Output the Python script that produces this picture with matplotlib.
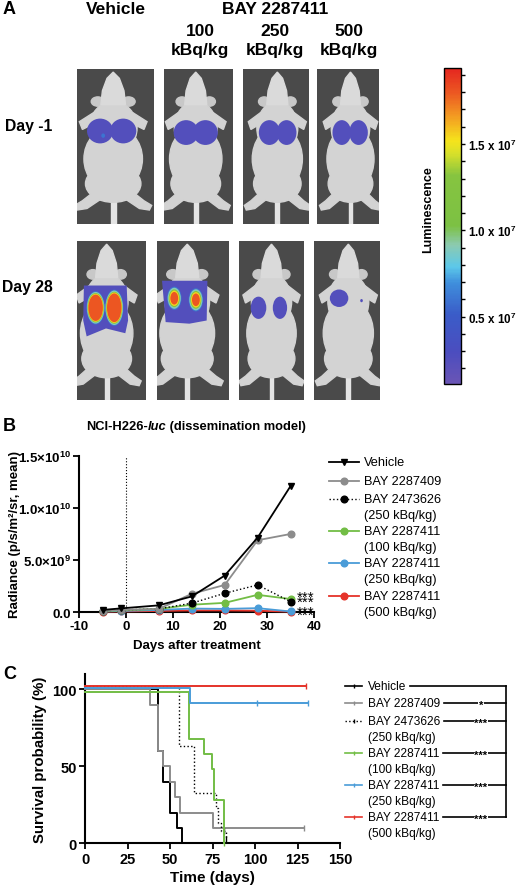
import numpy as np
import matplotlib
matplotlib.use("Agg")
import matplotlib.pyplot as plt
from matplotlib.colors import LinearSegmentedColormap, Normalize
from matplotlib.patches import Ellipse, Polygon, Rectangle
from matplotlib.cm import ScalarMappable
from matplotlib.ticker import FixedLocator

plt.rcParams['font.family'] = ['Liberation Sans', 'DejaVu Sans']
plt.rcParams['mathtext.fontset'] = 'custom'
plt.rcParams['mathtext.rm'] = 'Liberation Sans:bold'
plt.rcParams['mathtext.bf'] = 'Liberation Sans:bold'
plt.rcParams['mathtext.default'] = 'bf'
plt.rcParams['axes.unicode_minus'] = False

W, H = 520, 887

# ---- A: imaging, luminescence scale ----
lum_min, lum_max = 0.11e7, 1.94e7
lum_ticks = [0.5e7, 1.0e7, 1.5e7]
lum_tick_labels = ['0.5 x $10^{7}$', '1.0 x $10^{7}$', '1.5 x $10^{7}$']
lum_levels = [0.25e7, 0.6e7, 0.9e7, 1.3e7, 1.55e7, 1.8e7]
# lobes per mouse: (x, y, w, h, peak signal)
lobes_day_m1 = [
    [(0.30, 0.40, 0.34, 0.16, 0.3e7), (0.60, 0.40, 0.34, 0.16, 0.3e7), (0.34, 0.43, 0.07, 0.04, 0.65e7)],
    [(0.32, 0.41, 0.36, 0.16, 0.3e7), (0.60, 0.41, 0.36, 0.16, 0.3e7)],
    [(0.40, 0.41, 0.32, 0.16, 0.3e7), (0.66, 0.41, 0.30, 0.16, 0.3e7)],
    [(0.40, 0.41, 0.30, 0.16, 0.3e7), (0.67, 0.41, 0.30, 0.16, 0.3e7)],
]
lobes_day28 = [
    [(0.27, 0.42, 0.28, 0.22, 3.5e7), (0.54, 0.42, 0.28, 0.24, 3.5e7)],
    [(0.24, 0.36, 0.22, 0.16, 2.0e7), (0.54, 0.37, 0.22, 0.16, 2.0e7)],
    [(0.30, 0.42, 0.24, 0.14, 0.3e7), (0.63, 0.42, 0.22, 0.14, 0.3e7)],
    [(0.38, 0.36, 0.28, 0.11, 0.3e7), (0.72, 0.375, 0.04, 0.02, 0.3e7)],
]
chest_day28 = [
    [(0.10, 0.28), (0.72, 0.28), (0.74, 0.50), (0.70, 0.58), (0.42, 0.55), (0.14, 0.60), (0.09, 0.50)],
    [(0.07, 0.25), (0.70, 0.25), (0.69, 0.50), (0.45, 0.52), (0.12, 0.51)],
    None,
    None,
]
mouse_cx = [[0.47, 0.46, 0.52, 0.54], [0.43, 0.42, 0.50, 0.52]]

# ---- B: radiance ----
days_b = [-5, -1, 7, 14, 21, 28, 35]
rad_vehicle = [0.2e9, 0.35e9, 0.64e9, 1.5e9, 3.5e9, 7.15e9, 12.1e9]
rad_2287409 = [0.1e9, 0.2e9, 0.3e9, 1.75e9, 2.6e9, 6.9e9, 7.5e9]
rad_2473626 = [0.1e9, 0.2e9, 0.3e9, 0.85e9, 1.8e9, 2.6e9, 1.0e9]
rad_2287411_100 = [0.1e9, 0.15e9, 0.3e9, 0.7e9, 0.88e9, 1.65e9, 1.25e9]
rad_2287411_250 = [0.05e9, 0.1e9, 0.2e9, 0.33e9, 0.3e9, 0.37e9, 0.05e9]
rad_2287411_500 = [0.03e9, 0.05e9, 0.1e9, 0.15e9, 0.15e9, 0.12e9, 0.03e9]
stars_b_y = [1.42e9, 0.96e9, 0.02e9, -0.3e9]

# ---- C: survival ----
t_vehicle = [0, 43, 46, 50, 54, 57]
s_vehicle = [100, 60, 40, 20, 10, 0]
t_2287409 = [0, 38, 43, 46, 50, 53, 56, 75, 129]
s_2287409 = [100, 90, 60, 50, 40, 30, 20, 10, 10]
t_2473626 = [0, 55, 64, 77, 78, 80, 83]
s_2473626 = [102.5, 63, 33, 23, 13, 8, 3]
t_2287411_100 = [0, 61, 70, 74.5, 76, 82]
s_2287411_100 = [98, 68, 58, 48, 28, 0]
t_2287411_250 = [0, 62, 131]
s_2287411_250 = [100.8, 91, 91]
t_2287411_500 = [0, 130]
s_2287411_500 = [102.5, 102.5]
censor_times = [[], [129], [82, 83], [82], [101, 131], [130]]
signif_c = [None, '*', '***', '***', '***', '***']

labels = ['Vehicle', 'BAY 2287409', 'BAY 2473626\n(250 kBq/kg)', 'BAY 2287411\n(100 kBq/kg)',
          'BAY 2287411\n(250 kBq/kg)', 'BAY 2287411\n(500 kBq/kg)']
colors = ['black', '#8c8c8c', 'black', '#72bd45', '#4a9cd8', '#e5332a']
styles = ['-', '-', ':', '-', '-', '-']
markers = ['v', 'o', 'o', 'o', 'o', 'o']

lum_cmap = LinearSegmentedColormap.from_list('lum', [
    (0.00, '#6a55b5'), (0.10, '#4b4dbf'), (0.22, '#3a5cc8'), (0.32, '#3f8fdc'),
    (0.37, '#5cc8ea'), (0.44, '#8ccab0'), (0.50, '#7cc143'), (0.66, '#86c440'),
    (0.73, '#d8e02a'), (0.77, '#f5e41c'), (0.85, '#f39a22'), (0.92, '#ec5a22'), (1.00, '#e52620')])
lum_norm = Normalize(lum_min, lum_max)


def px_rect(x0, y0, x1, y1):
    return [x0 / W, 1 - y1 / H, (x1 - x0) / W, (y1 - y0) / H]


def draw_mouse(ax, cx, lobes, chest):
    ax.set_facecolor('#4a4a4a')
    ax.set_xlim(0, 1)
    ax.set_ylim(1, 0)
    ax.set_xticks([])
    ax.set_yticks([])
    for s in ax.spines.values():
        s.set_visible(False)
    d = cx - 0.5
    body = '#d3d3d3'
    ax.add_patch(Rectangle((0.47 + d, 0.84), 0.06, 0.16, color='#e4e4e4'))
    for sgn in (-1, 1):
        leg = [(0.5 + d + sgn * x, y) for x, y in
               [(0.22, 0.78), (0.40, 0.85), (0.50, 0.88), (0.47, 0.91), (0.34, 0.90), (0.16, 0.84)]]
        ax.add_patch(Polygon(leg, color=body))
        arm = [(0.5 + d + sgn * x, y) for x, y in
               [(0.25, 0.28), (0.44, 0.34), (0.40, 0.39), (0.24, 0.35)]]
        ax.add_patch(Polygon(arm, color=body))
        ax.add_patch(Ellipse((0.5 + d + sgn * 0.2, 0.21), 0.17, 0.06, color='#c8c8c8'))
    ax.add_patch(Ellipse((0.5 + d, 0.74), 0.72, 0.24, color=body))
    ax.add_patch(Ellipse((0.5 + d, 0.58), 0.76, 0.42, color=body))
    ax.add_patch(Ellipse((0.5 + d, 0.38), 0.62, 0.34, color=body))
    head = [(0.5 + d + x, y) for x, y in
            [(0.0, 0.02), (0.08, 0.06), (0.14, 0.14), (0.16, 0.23), (-0.16, 0.23), (-0.14, 0.14), (-0.08, 0.06)]]
    ax.add_patch(Polygon(head, color='#dadada'))
    if chest is not None:
        ax.add_patch(Polygon(chest, color=lum_cmap(lum_norm(0.25e7)), lw=0, zorder=4))
    for x, y, w, h, peak in lobes:
        for i, lv in enumerate([l for l in lum_levels if l <= peak]):
            f = np.sqrt(max(1 - (lv - lum_levels[0]) / (peak - lum_levels[0] + 0.3e7), 0.05))
            ax.add_patch(Ellipse((x, y), w * f, h * f, color=lum_cmap(lum_norm(lv)), lw=0, zorder=5 + i))


fig = plt.figure(figsize=(W / 100, H / 100), dpi=100)

row_y = [(70, 225), (242, 401)]
row_x = [[(77, 154), (164, 233), (243, 309), (317, 379)],
         [(77, 146), (157, 229), (239, 304), (314, 380)]]
for r, lobes_row in enumerate([lobes_day_m1, lobes_day28]):
    for c in range(4):
        x0, x1 = row_x[r][c]
        ax = fig.add_axes(px_rect(x0, row_y[r][0], x1, row_y[r][1]))
        chest = chest_day28[c] if r == 1 else None
        draw_mouse(ax, mouse_cx[r][c], lobes_row[c], chest)

cax = fig.add_axes(px_rect(444, 69, 461, 385))
cb = fig.colorbar(ScalarMappable(lum_norm, lum_cmap), cax=cax)
cb.set_ticks(lum_ticks)
cb.set_ticklabels(lum_tick_labels)
cax.yaxis.set_minor_locator(FixedLocator(np.arange(0.2e7, 1.95e7, 0.1e7)))
cax.tick_params(which='both', length=3, width=1, labelsize=8.4, pad=2)
cb.outline.set_linewidth(1)
for t in cax.get_yticklabels():
    t.set_fontweight('bold')

# ---- panel B ----
axb = fig.add_axes(px_rect(79, 457, 314, 613))
series_b = [rad_vehicle, rad_2287409, rad_2473626, rad_2287411_100, rad_2287411_250, rad_2287411_500]
for i in [5, 4, 3, 2, 1, 0]:
    axb.plot(days_b, series_b[i], color=colors[i], ls=styles[i], lw=1.3 if styles[i] == '-' else 1.0,
             marker=markers[i], ms=4.8, clip_on=False, zorder=3 + (5 - i))
axb.axvline(0, color='black', ls=':', lw=0.8)
axb.set_xlim(-10, 40)
axb.set_ylim(0, 1.5e10)
axb.set_xticks([-10, 0, 10, 20, 30, 40])
axb.set_yticks([0, 5e9, 1e10, 1.5e10])
axb.set_yticklabels(['0.0', '5.0×$10^{9}$', '1.0×$10^{10}$', '1.5×$10^{10}$'])
for y in stars_b_y:
    axb.text(36.4, y, '***', fontsize=11, va='center', clip_on=False)
axb.set_xlabel('Days after treatment', fontsize=9.5, fontweight='bold', va='center')
axb.xaxis.set_label_coords(0.5, -33 / 156)
axb.set_ylabel('Radiance (p/s/m²/sr, mean)', fontsize=9.5, fontweight='bold', va='center')
axb.yaxis.set_label_coords((15 - 79) / 235, 0.5)

# ---- panel C ----
axc = fig.add_axes(px_rect(85, 675, 340, 844.3))
surv = [(t_vehicle, s_vehicle), (t_2287409, s_2287409), (t_2473626, s_2473626),
        (t_2287411_100, s_2287411_100), (t_2287411_250, s_2287411_250), (t_2287411_500, s_2287411_500)]
for i in [1, 0, 2, 3, 4, 5]:
    t, s = surv[i]
    axc.step(t, s, where='post', color=colors[i], ls=styles[i], lw=1.4 if styles[i] == '-' else 1.0,
             clip_on=False, zorder=3 + i)
    for tc in censor_times[i]:
        sc = s[np.searchsorted(t, tc, side='right') - 1]
        axc.plot([tc], [sc], marker='|', ms=4, color=colors[i], clip_on=False, zorder=3 + i)
axc.set_xlim(0, 150)
axc.set_ylim(0, 110)
axc.set_xticks([0, 25, 50, 75, 100, 125, 150])
axc.set_yticks([0, 50, 100])
axc.set_xlabel('Time (days)', fontsize=11, fontweight='bold', va='center')
axc.xaxis.set_label_coords(0.5, -(878 - 844.3) / 169.3)
axc.set_ylabel('Survival probability (%)', fontsize=10.8, fontweight='bold', va='center')
axc.yaxis.set_label_coords((40 - 85) / 255, 0.5)

for ax, fs in [(axb, 9.5), (axc, 10.5)]:
    for side in ['top', 'right']:
        ax.spines[side].set_visible(False)
    for side in ['left', 'bottom']:
        ax.spines[side].set_linewidth(1.5)
    ax.tick_params(width=1.3, length=4, labelsize=fs, pad=2)
    for t in ax.get_xticklabels() + ax.get_yticklabels():
        t.set_fontweight('bold')

# ---- overlay for headings and legends (pixel coords) ----
ov = fig.add_axes([0, 0, 1, 1])
ov.set_xlim(0, W)
ov.set_ylim(H, 0)
ov.axis('off')
ov.set_zorder(10)
ov.patch.set_alpha(0)

bold = dict(fontweight='bold', va='center')
ov.text(3, 10, 'A', fontsize=13, ha='left', **bold)
ov.text(116, 10, 'Vehicle', fontsize=12.5, ha='center', **bold)
ov.text(275, 10, 'BAY 2287411', fontsize=12.5, ha='center', **bold)
for x, dose in zip([200, 275, 349], ['100', '250', '500']):
    ov.text(x, 31, dose, fontsize=12.5, ha='center', **bold)
    ov.text(x, 51, 'kBq/kg', fontsize=12.5, ha='center', **bold)
ov.text(5, 127, 'Day -1', fontsize=11.3, ha='left', **bold)
ov.text(2, 288, 'Day 28', fontsize=11.3, ha='left', **bold)
ov.text(428, 210, 'Luminescence', fontsize=9, rotation=90, ha='center', **bold)

ov.text(3, 427, 'B', fontsize=13, ha='left', **bold)
renderer = fig.canvas.get_renderer()
x = 86
for part, style in [('NCI-H226-', 'normal'), ('luc', 'italic'), (' (dissemination model)', 'normal')]:
    t = ov.text(x, 427, part, fontsize=9.3, fontstyle=style, ha='left', **bold)
    x += t.get_window_extent(renderer).width
ov.text(3, 675, 'C', fontsize=13, ha='left', **bold)

# legend B
legend_b_y = [463, 482, 500, 532, 564, 597]
for i, y in enumerate(legend_b_y):
    ov.plot([329, 359], [y, y], color=colors[i], ls=styles[i], lw=1.3 if styles[i] == '-' else 1.0)
    ov.plot([344], [y], marker=markers[i], ms=4.8, color=colors[i])
    for k, line in enumerate(labels[i].split('\n')):
        ov.text(364, y + 16 * k, line, fontsize=9.2, va='center', ha='left')

# legend C with significance bracket
legend_c_y = [687, 704, 722, 754, 786, 818]
for i, y in enumerate(legend_c_y):
    ov.plot([345, 362], [y, y], color=colors[i], ls=styles[i], lw=1.2 if styles[i] == '-' else 1.0)
    ov.plot([353.5], [y], marker='|', ms=3, color=colors[i])
    for k, line in enumerate(labels[i].split('\n')):
        t = ov.text(368, y + 16 * k, line, fontsize=8.6, va='center', ha='left')
        if k == 0:
            x_end = t.get_window_extent(renderer).x1
    ov.plot([x_end + 4, 506], [y, y], color='black', lw=1.2)
    if signif_c[i]:
        ov.text(481, y + 2, signif_c[i], fontsize=8, ha='center', va='center', fontweight='bold',
                bbox=dict(facecolor='white', edgecolor='none', pad=0.4))
ov.plot([506, 506], [legend_c_y[0], legend_c_y[-1]], color='black', lw=1.2)

fig.savefig('out.png', dpi=100)
